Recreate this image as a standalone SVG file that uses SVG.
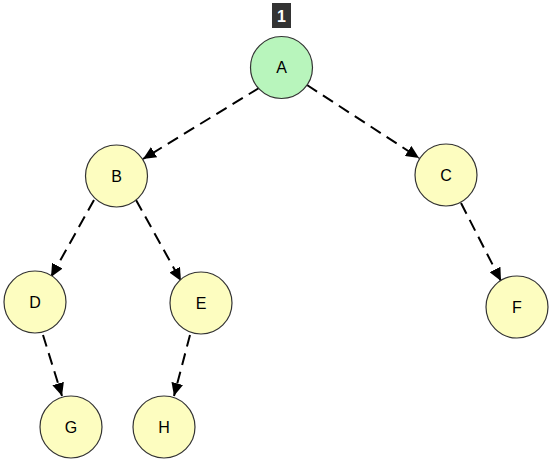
<svg xmlns="http://www.w3.org/2000/svg" width="552" height="464" viewBox="0 0 552 464">
<defs>
<style>
.node circle{fill:#fdfdc0;stroke:#333;stroke-width:1.2}
.root circle{fill:#b8f5bc}
.node text{font-family:"Liberation Sans",Arial,sans-serif;font-size:16px;fill:#000;text-anchor:middle;dominant-baseline:central}
.edge{stroke:#000;stroke-width:2;stroke-dasharray:12 7;fill:none}
</style>
<marker id="arr" markerUnits="userSpaceOnUse" markerWidth="14" markerHeight="12" refX="13" refY="6" orient="auto">
<path d="M0,0 L13,6 L0,12 Z" fill="#000"/>
</marker>
</defs>
<rect width="552" height="464" fill="#fff"/>
<g id="badge">
<rect x="272" y="3" width="19" height="25" fill="#333"/>
<text x="281.5" y="16" font-family="Liberation Sans,Arial,sans-serif" font-size="16" font-weight="bold" fill="#fff" text-anchor="middle" dominant-baseline="central">1</text>
</g>
<g id="edges">
<line class="edge" x1="259" y1="88" x2="143" y2="159" marker-end="url(#arr)"/>
<line class="edge" x1="307" y1="85" x2="419" y2="158" marker-end="url(#arr)"/>
<line class="edge" x1="94" y1="200" x2="51" y2="277" marker-end="url(#arr)"/>
<line class="edge" x1="136" y1="200" x2="181" y2="281" marker-end="url(#arr)"/>
<line class="edge" x1="461" y1="203" x2="501" y2="281" marker-end="url(#arr)"/>
<line class="edge" x1="43" y1="335" x2="62" y2="396" marker-end="url(#arr)"/>
<line class="edge" x1="190" y1="335" x2="174" y2="396" marker-end="url(#arr)"/>
</g>
<g id="A" class="node root"><circle cx="281.5" cy="67.5" r="31"/><text x="281.5" y="67.5">A</text></g>
<g id="B" class="node"><circle cx="116.5" cy="176" r="31"/><text x="116.5" y="176">B</text></g>
<g id="C" class="node"><circle cx="446" cy="175" r="31"/><text x="446" y="175">C</text></g>
<g id="D" class="node"><circle cx="35" cy="302" r="31"/><text x="35" y="302">D</text></g>
<g id="E" class="node"><circle cx="201" cy="303" r="31"/><text x="201" y="303">E</text></g>
<g id="F" class="node"><circle cx="517" cy="307" r="31"/><text x="517" y="307">F</text></g>
<g id="G" class="node"><circle cx="71" cy="427" r="31"/><text x="71" y="427">G</text></g>
<g id="H" class="node"><circle cx="164" cy="427" r="31"/><text x="164" y="427">H</text></g>
</svg>
